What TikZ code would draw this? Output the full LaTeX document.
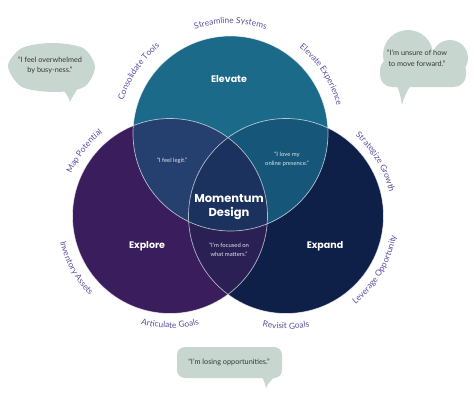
\documentclass[tikz,border=0pt]{standalone}
\usepackage{fontspec}
\setmainfont{Lato}
\newfontfamily\headfont{Poppins}
\usepackage{tikz}
\usetikzlibrary{decorations.text}
\usepackage{xcolor}

\definecolor{elevatecol}{RGB}{27,106,138}
\definecolor{explorecol}{RGB}{58,29,92}
\definecolor{expandcol}{RGB}{15,32,72}
\definecolor{elexplcol}{RGB}{37,64,110}
\definecolor{elexpacol}{RGB}{22,86,120}
\definecolor{exexcol}{RGB}{42,32,84}
\definecolor{corecol}{RGB}{27,50,94}
\definecolor{labelcol}{RGB}{94,78,160}
\definecolor{bubblecol}{RGB}{200,214,208}
\definecolor{saycol}{RGB}{55,55,55}
\definecolor{quotecol}{RGB}{222,228,238}
\newcommand{\labelfont}{\fontsize{8.4}{9}\selectfont}

\begin{document}
\begin{tikzpicture}[x=1pt,y=1pt,
  title/.style={text=white, font=\headfont\bfseries\fontsize{9.5}{11}\selectfont},
  quote/.style={text=quotecol, align=center, font=\fontsize{5.9}{8.5}\selectfont},
  say/.style={text=saycol, align=center, font=\fontsize{7.3}{10.5}\selectfont},
  bubble/.style={fill=bubblecol},
  arclabel/.style={decorate, decoration={text along path, text align=center,
      text color=labelcol, text={|\labelfont|#1}}}]
\useasboundingbox (0,0) rectangle (474,400);

\coordinate (elevate c) at (230.5,266.5);
\coordinate (explore c) at (170,184);
\coordinate (expand c) at (286,184);
\def\rad{97.5pt}

% the three circles
\fill[explorecol] (explore c) circle (\rad);
\fill[expandcol] (expand c) circle (\rad);
\fill[elevatecol] (elevate c) circle (\rad);
\begin{scope}
  \clip (elevate c) circle (\rad);
  \fill[elexplcol] (explore c) circle (\rad);
  \fill[elexpacol] (expand c) circle (\rad);
\end{scope}
\begin{scope}
  \clip (explore c) circle (\rad);
  \fill[exexcol] (expand c) circle (\rad);
  \clip (elevate c) circle (\rad);
  \fill[corecol] (expand c) circle (\rad);
\end{scope}
\draw[white, opacity=.65, line width=.7pt] (elevate c) circle (\rad) (explore c) circle (\rad) (expand c) circle (\rad);

% names and quotes
\node[title] (elevate) at (229,321) {Elevate};
\node[title] (explore) at (147,154) {Explore};
\node[title] (expand) at (325,154) {Expand};
\node[title, align=center, font=\headfont\bfseries\fontsize{11.5}{14.5}\selectfont] (core) at (229,193) {Momentum\\Design};
\node[quote] (legit) at (172,239) {“I feel legit.”};
\node[quote] (online) at (287,241) {“I love my\\online presence.”};
\node[quote] (focus) at (229,150) {“I'm focused on\\what matters.”};

% labels round the circles
\path[arclabel=Streamline Systems] (elevate c) ++(135:110pt) arc[start angle=135, end angle=45, radius=110pt];
\path[arclabel=Consolidate Tools] (elevate c) ++(191:112pt) arc[start angle=191, end angle=101, radius=112pt];
\path[arclabel=Elevate Experience] (elevate c) ++(78:110pt) arc[start angle=78, end angle=-12, radius=110pt];
\path[arclabel=Map Potential] (explore c) ++(188:107pt) arc[start angle=188, end angle=98, radius=107pt];
\path[arclabel=Strategize Growth] (expand c) ++(76:106pt) arc[start angle=76, end angle=-14, radius=106pt];
\path[arclabel=Inventory Assets] (explore c) ++(164:113pt) arc[start angle=164, end angle=254, radius=113pt];
\path[arclabel=Articulate Goals] (explore c) ++(225:112pt) arc[start angle=225, end angle=315, radius=112pt];
\path[arclabel=Revisit Goals] (expand c) ++(225:113pt) arc[start angle=225, end angle=315, radius=113pt];
\path[arclabel=Leverage Opportunity] (expand c) ++(-76:112pt) arc[start angle=-76, end angle=14, radius=112pt];

% speech bubbles
\fill[bubble] plot[smooth cycle] coordinates {(8,334) (22,352) (52,357) (83,352) (95,333) (84,313) (55,308) (22,313)};
\fill[bubble] (62,311) .. controls (67,306) and (69,302) .. (70,298) .. controls (72,303) and (75,307) .. (78,312) -- cycle;
\node[say] (busy) at (50,334.5) {“I feel overwhelmed\\by busy-ness.”};

\fill[bubble] (408,345) circle (25pt) (450,342) circle (18pt);
\fill[bubble, rounded corners=12pt] (380,313) rectangle (466,342);
\fill[bubble] (396,316) .. controls (400,308) and (401,301) .. (402,295) .. controls (404,303) and (407,309) .. (411,315) -- cycle;
\node[say] (unsure) at (417,342) {“I'm unsure of how\\to move forward.”};

\fill[bubble, rounded corners=8pt] (177,22) rectangle (282,53);
\fill[bubble] (261,25) .. controls (264,20) and (265,16) .. (266,12) .. controls (268,17) and (272,21) .. (277,25) -- cycle;
\node[say] (losing) at (229,38) {“I'm losing opportunities.”};
\end{tikzpicture}
\end{document}
